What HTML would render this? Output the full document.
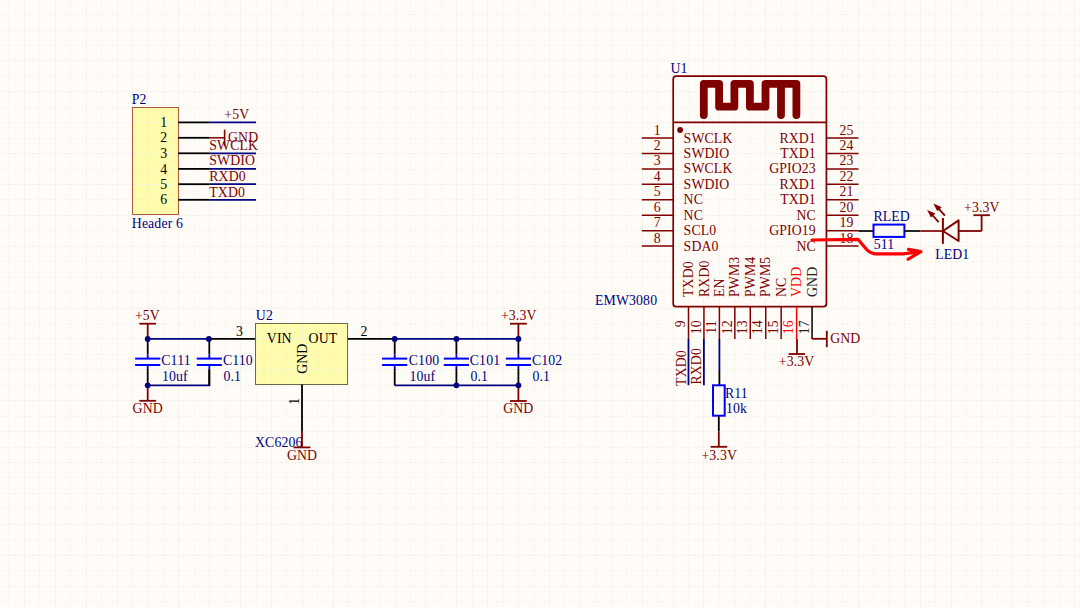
<!DOCTYPE html>
<html><head><meta charset="utf-8"><title>schematic</title>
<style>
html,body{margin:0;padding:0;width:1080px;height:608px;overflow:hidden;background:#FFFCF8;}
svg{display:block;}
text{font-family:"Liberation Serif",serif;font-size:13.8px;letter-spacing:0.12px;}
.gs{stroke:rgba(236,236,230,0.55);stroke-width:1;}
.gd{stroke:rgba(222,222,215,0.4);stroke-width:1;stroke-dasharray:1.4 2.0;}
</style></head><body>
<svg width="1080" height="608" viewBox="0 0 1080 608">
<rect width="1080" height="608" fill="#FFFCF8"/>
<rect x="132.5" y="107.5" width="46" height="107" fill="#FFFCAE"/>
<rect x="255.5" y="323.5" width="92" height="61" fill="#FFFCAE"/>
<g id="grid"><line x1="8.5" y1="0" x2="8.5" y2="608" class="gd"/><line x1="24.5" y1="0" x2="24.5" y2="608" class="gs"/><line x1="39.5" y1="0" x2="39.5" y2="608" class="gd"/><line x1="55.5" y1="0" x2="55.5" y2="608" class="gs"/><line x1="70.5" y1="0" x2="70.5" y2="608" class="gd"/><line x1="86.5" y1="0" x2="86.5" y2="608" class="gs"/><line x1="101.5" y1="0" x2="101.5" y2="608" class="gd"/><line x1="117.5" y1="0" x2="117.5" y2="608" class="gs"/><line x1="132.5" y1="0" x2="132.5" y2="608" class="gd"/><line x1="147.5" y1="0" x2="147.5" y2="608" class="gs"/><line x1="163.5" y1="0" x2="163.5" y2="608" class="gd"/><line x1="178.5" y1="0" x2="178.5" y2="608" class="gs"/><line x1="194.5" y1="0" x2="194.5" y2="608" class="gd"/><line x1="209.5" y1="0" x2="209.5" y2="608" class="gs"/><line x1="225.5" y1="0" x2="225.5" y2="608" class="gd"/><line x1="240.5" y1="0" x2="240.5" y2="608" class="gs"/><line x1="256.5" y1="0" x2="256.5" y2="608" class="gd"/><line x1="271.5" y1="0" x2="271.5" y2="608" class="gs"/><line x1="286.5" y1="0" x2="286.5" y2="608" class="gd"/><line x1="302.5" y1="0" x2="302.5" y2="608" class="gs"/><line x1="317.5" y1="0" x2="317.5" y2="608" class="gd"/><line x1="333.5" y1="0" x2="333.5" y2="608" class="gs"/><line x1="348.5" y1="0" x2="348.5" y2="608" class="gd"/><line x1="364.5" y1="0" x2="364.5" y2="608" class="gs"/><line x1="379.5" y1="0" x2="379.5" y2="608" class="gd"/><line x1="395.5" y1="0" x2="395.5" y2="608" class="gs"/><line x1="410.5" y1="0" x2="410.5" y2="608" class="gd"/><line x1="425.5" y1="0" x2="425.5" y2="608" class="gs"/><line x1="441.5" y1="0" x2="441.5" y2="608" class="gd"/><line x1="456.5" y1="0" x2="456.5" y2="608" class="gs"/><line x1="472.5" y1="0" x2="472.5" y2="608" class="gd"/><line x1="487.5" y1="0" x2="487.5" y2="608" class="gs"/><line x1="503.5" y1="0" x2="503.5" y2="608" class="gd"/><line x1="518.5" y1="0" x2="518.5" y2="608" class="gs"/><line x1="534.5" y1="0" x2="534.5" y2="608" class="gd"/><line x1="549.5" y1="0" x2="549.5" y2="608" class="gs"/><line x1="564.5" y1="0" x2="564.5" y2="608" class="gd"/><line x1="580.5" y1="0" x2="580.5" y2="608" class="gs"/><line x1="595.5" y1="0" x2="595.5" y2="608" class="gd"/><line x1="611.5" y1="0" x2="611.5" y2="608" class="gs"/><line x1="626.5" y1="0" x2="626.5" y2="608" class="gd"/><line x1="642.5" y1="0" x2="642.5" y2="608" class="gs"/><line x1="657.5" y1="0" x2="657.5" y2="608" class="gd"/><line x1="673.5" y1="0" x2="673.5" y2="608" class="gs"/><line x1="688.5" y1="0" x2="688.5" y2="608" class="gd"/><line x1="703.5" y1="0" x2="703.5" y2="608" class="gs"/><line x1="719.5" y1="0" x2="719.5" y2="608" class="gd"/><line x1="734.5" y1="0" x2="734.5" y2="608" class="gs"/><line x1="750.5" y1="0" x2="750.5" y2="608" class="gd"/><line x1="765.5" y1="0" x2="765.5" y2="608" class="gs"/><line x1="781.5" y1="0" x2="781.5" y2="608" class="gd"/><line x1="796.5" y1="0" x2="796.5" y2="608" class="gs"/><line x1="812.5" y1="0" x2="812.5" y2="608" class="gd"/><line x1="827.5" y1="0" x2="827.5" y2="608" class="gs"/><line x1="842.5" y1="0" x2="842.5" y2="608" class="gd"/><line x1="858.5" y1="0" x2="858.5" y2="608" class="gs"/><line x1="873.5" y1="0" x2="873.5" y2="608" class="gd"/><line x1="889.5" y1="0" x2="889.5" y2="608" class="gs"/><line x1="904.5" y1="0" x2="904.5" y2="608" class="gd"/><line x1="920.5" y1="0" x2="920.5" y2="608" class="gs"/><line x1="935.5" y1="0" x2="935.5" y2="608" class="gd"/><line x1="951.5" y1="0" x2="951.5" y2="608" class="gs"/><line x1="966.5" y1="0" x2="966.5" y2="608" class="gd"/><line x1="981.5" y1="0" x2="981.5" y2="608" class="gs"/><line x1="997.5" y1="0" x2="997.5" y2="608" class="gd"/><line x1="1012.5" y1="0" x2="1012.5" y2="608" class="gs"/><line x1="1028.5" y1="0" x2="1028.5" y2="608" class="gd"/><line x1="1043.5" y1="0" x2="1043.5" y2="608" class="gs"/><line x1="1059.5" y1="0" x2="1059.5" y2="608" class="gd"/><line x1="1074.5" y1="0" x2="1074.5" y2="608" class="gs"/><line x1="0" y1="-0.5" x2="1080" y2="-0.5" class="gs"/><line x1="0" y1="14.5" x2="1080" y2="14.5" class="gd"/><line x1="0" y1="30.5" x2="1080" y2="30.5" class="gs"/><line x1="0" y1="45.5" x2="1080" y2="45.5" class="gd"/><line x1="0" y1="60.5" x2="1080" y2="60.5" class="gs"/><line x1="0" y1="76.5" x2="1080" y2="76.5" class="gd"/><line x1="0" y1="91.5" x2="1080" y2="91.5" class="gs"/><line x1="0" y1="107.5" x2="1080" y2="107.5" class="gd"/><line x1="0" y1="122.5" x2="1080" y2="122.5" class="gs"/><line x1="0" y1="138.5" x2="1080" y2="138.5" class="gd"/><line x1="0" y1="153.5" x2="1080" y2="153.5" class="gs"/><line x1="0" y1="169.5" x2="1080" y2="169.5" class="gd"/><line x1="0" y1="184.5" x2="1080" y2="184.5" class="gs"/><line x1="0" y1="199.5" x2="1080" y2="199.5" class="gd"/><line x1="0" y1="215.5" x2="1080" y2="215.5" class="gs"/><line x1="0" y1="230.5" x2="1080" y2="230.5" class="gd"/><line x1="0" y1="246.5" x2="1080" y2="246.5" class="gs"/><line x1="0" y1="261.5" x2="1080" y2="261.5" class="gd"/><line x1="0" y1="277.5" x2="1080" y2="277.5" class="gs"/><line x1="0" y1="292.5" x2="1080" y2="292.5" class="gd"/><line x1="0" y1="308.5" x2="1080" y2="308.5" class="gs"/><line x1="0" y1="323.5" x2="1080" y2="323.5" class="gd"/><line x1="0" y1="338.5" x2="1080" y2="338.5" class="gs"/><line x1="0" y1="354.5" x2="1080" y2="354.5" class="gd"/><line x1="0" y1="369.5" x2="1080" y2="369.5" class="gs"/><line x1="0" y1="385.5" x2="1080" y2="385.5" class="gd"/><line x1="0" y1="400.5" x2="1080" y2="400.5" class="gs"/><line x1="0" y1="416.5" x2="1080" y2="416.5" class="gd"/><line x1="0" y1="431.5" x2="1080" y2="431.5" class="gs"/><line x1="0" y1="447.5" x2="1080" y2="447.5" class="gd"/><line x1="0" y1="462.5" x2="1080" y2="462.5" class="gs"/><line x1="0" y1="477.5" x2="1080" y2="477.5" class="gd"/><line x1="0" y1="493.5" x2="1080" y2="493.5" class="gs"/><line x1="0" y1="508.5" x2="1080" y2="508.5" class="gd"/><line x1="0" y1="524.5" x2="1080" y2="524.5" class="gs"/><line x1="0" y1="539.5" x2="1080" y2="539.5" class="gd"/><line x1="0" y1="555.5" x2="1080" y2="555.5" class="gs"/><line x1="0" y1="570.5" x2="1080" y2="570.5" class="gd"/><line x1="0" y1="586.5" x2="1080" y2="586.5" class="gs"/><line x1="0" y1="601.5" x2="1080" y2="601.5" class="gd"/></g>
<rect x="132.5" y="107.5" width="46" height="107" fill="none" stroke="#B35A3E" stroke-width="1"/>
<line x1="178.1" y1="122.4" x2="209.1" y2="122.4" stroke="#000000" stroke-width="1.8" />
<text x="167.2" y="127.0" fill="#000000" text-anchor="end" >1</text>
<line x1="209.1" y1="122.4" x2="256.0" y2="122.4" stroke="#000080" stroke-width="1.8" />
<line x1="178.1" y1="137.8" x2="209.1" y2="137.8" stroke="#000000" stroke-width="1.8" />
<text x="167.2" y="142.4" fill="#000000" text-anchor="end" >2</text>
<line x1="178.1" y1="153.3" x2="209.1" y2="153.3" stroke="#000000" stroke-width="1.8" />
<text x="167.2" y="157.9" fill="#000000" text-anchor="end" >3</text>
<line x1="209.1" y1="153.3" x2="256.0" y2="153.3" stroke="#000080" stroke-width="1.8" />
<line x1="178.1" y1="168.9" x2="209.1" y2="168.9" stroke="#000000" stroke-width="1.8" />
<text x="167.2" y="173.5" fill="#000000" text-anchor="end" >4</text>
<line x1="209.1" y1="168.9" x2="256.0" y2="168.9" stroke="#000080" stroke-width="1.8" />
<line x1="178.1" y1="184.2" x2="209.1" y2="184.2" stroke="#000000" stroke-width="1.8" />
<text x="167.2" y="188.79999999999998" fill="#000000" text-anchor="end" >5</text>
<line x1="209.1" y1="184.2" x2="256.0" y2="184.2" stroke="#000080" stroke-width="1.8" />
<line x1="178.1" y1="199.8" x2="209.1" y2="199.8" stroke="#000000" stroke-width="1.8" />
<text x="167.2" y="204.4" fill="#000000" text-anchor="end" >6</text>
<line x1="209.1" y1="199.8" x2="256.0" y2="199.8" stroke="#000080" stroke-width="1.8" />
<line x1="209.1" y1="137.8" x2="224.6" y2="137.8" stroke="#800000" stroke-width="1.5" />
<line x1="224.6" y1="129.6" x2="224.6" y2="146.0" stroke="#800000" stroke-width="1.6" />
<text x="228.0" y="142.0" fill="#800000" >GND</text>
<text x="224.3" y="119.0" fill="#800000" >+5V</text>
<text x="209.3" y="149.6" fill="#800000" >SWCLK</text>
<text x="209.3" y="165.2" fill="#800000" >SWDIO</text>
<text x="209.3" y="180.9" fill="#800000" >RXD0</text>
<text x="209.3" y="196.5" fill="#800000" >TXD0</text>
<text x="131.8" y="103.6" fill="#000080" >P2</text>
<text x="131.8" y="228.0" fill="#000080" >Header 6</text>
<line x1="147.7" y1="323.7" x2="147.7" y2="338.9" stroke="#800000" stroke-width="1.8" />
<line x1="139.29999999999998" y1="323.7" x2="156.1" y2="323.7" stroke="#800000" stroke-width="1.8" />
<text x="134.9" y="320.09999999999997" fill="#800000" >+5V</text>
<line x1="147.7" y1="338.9" x2="208.9" y2="338.9" stroke="#000080" stroke-width="1.8" />
<line x1="208.9" y1="338.9" x2="255.4" y2="338.9" stroke="#000000" stroke-width="1.8" />
<line x1="147.7" y1="338.9" x2="147.7" y2="354.3" stroke="#000000" stroke-width="1.8" />
<line x1="147.7" y1="354.3" x2="147.7" y2="358.6" stroke="#0000FF" stroke-width="1.8" />
<line x1="135.1" y1="358.6" x2="160.29999999999998" y2="358.6" stroke="#0000FF" stroke-width="2.0" />
<line x1="135.1" y1="365.0" x2="160.29999999999998" y2="365.0" stroke="#0000FF" stroke-width="2.0" />
<line x1="147.7" y1="365.0" x2="147.7" y2="369.0" stroke="#0000FF" stroke-width="1.8" />
<line x1="147.7" y1="369.0" x2="147.7" y2="385.3" stroke="#000000" stroke-width="1.8" />
<text x="161.3" y="365.2" fill="#000080" >C111</text>
<text x="161.9" y="380.9" fill="#000080" >10uf</text>
<line x1="209.3" y1="338.9" x2="209.3" y2="354.3" stroke="#000000" stroke-width="1.8" />
<line x1="209.3" y1="354.3" x2="209.3" y2="358.6" stroke="#0000FF" stroke-width="1.8" />
<line x1="196.70000000000002" y1="358.6" x2="221.9" y2="358.6" stroke="#0000FF" stroke-width="2.0" />
<line x1="196.70000000000002" y1="365.0" x2="221.9" y2="365.0" stroke="#0000FF" stroke-width="2.0" />
<line x1="209.3" y1="365.0" x2="209.3" y2="369.0" stroke="#0000FF" stroke-width="1.8" />
<line x1="209.3" y1="369.0" x2="209.3" y2="385.3" stroke="#000000" stroke-width="1.8" />
<text x="222.9" y="365.2" fill="#000080" >C110</text>
<text x="223.5" y="380.9" fill="#000080" >0.1</text>
<line x1="147.7" y1="385.3" x2="210.2" y2="385.3" stroke="#000080" stroke-width="1.8" />
<line x1="209.3" y1="385.3" x2="209.3" y2="370" stroke="#000000" stroke-width="1.8" />
<line x1="147.7" y1="385.3" x2="147.7" y2="400.8" stroke="#800000" stroke-width="1.8" />
<line x1="139.29999999999998" y1="400.8" x2="156.1" y2="400.8" stroke="#800000" stroke-width="1.8" />
<text x="132.6" y="413.2" fill="#800000" >GND</text>
<circle cx="147.7" cy="338.9" r="2.9" fill="#000080"/>
<circle cx="208.9" cy="338.9" r="2.9" fill="#000080"/>
<circle cx="147.7" cy="385.3" r="2.9" fill="#000080"/>
<rect x="255.5" y="323.5" width="92" height="61" fill="none" stroke="#6E6A45" stroke-width="1"/>
<text x="266.8" y="343.3" fill="#000000" >VIN</text>
<text x="308.6" y="343.3" fill="#000000" >OUT</text>
<text x="0" y="0" fill="#000000" transform="translate(306.8 373.8) rotate(-90)" >GND</text>
<text x="255.8" y="320.0" fill="#000080" >U2</text>
<text x="236.0" y="335.9" fill="#000000" >3</text>
<text x="360.4" y="335.9" fill="#000000" >2</text>
<line x1="347.9" y1="338.9" x2="394.7" y2="338.9" stroke="#000000" stroke-width="1.8" />
<line x1="302.0" y1="384.4" x2="302.0" y2="431.1" stroke="#000000" stroke-width="1.8" />
<text x="0" y="0" fill="#000000" text-anchor="middle" transform="translate(299.0 401.2) rotate(-90)" >1</text>
<line x1="302.0" y1="431.1" x2="302.0" y2="447.4" stroke="#800000" stroke-width="1.8" />
<text x="255.0" y="446.6" fill="#000080" >XC6206</text>
<line x1="293.6" y1="447.4" x2="310.4" y2="447.4" stroke="#800000" stroke-width="1.8" />
<text x="286.9" y="459.79999999999995" fill="#800000" >GND</text>
<line x1="394.7" y1="338.9" x2="518.4" y2="338.9" stroke="#000080" stroke-width="1.8" />
<line x1="394.7" y1="385.3" x2="518.4" y2="385.3" stroke="#000080" stroke-width="1.8" />
<line x1="394.7" y1="338.9" x2="394.7" y2="354.3" stroke="#000000" stroke-width="1.8" />
<line x1="394.7" y1="354.3" x2="394.7" y2="358.6" stroke="#0000FF" stroke-width="1.8" />
<line x1="382.09999999999997" y1="358.6" x2="407.3" y2="358.6" stroke="#0000FF" stroke-width="2.0" />
<line x1="382.09999999999997" y1="365.0" x2="407.3" y2="365.0" stroke="#0000FF" stroke-width="2.0" />
<line x1="394.7" y1="365.0" x2="394.7" y2="369.0" stroke="#0000FF" stroke-width="1.8" />
<line x1="394.7" y1="369.0" x2="394.7" y2="385.3" stroke="#000000" stroke-width="1.8" />
<text x="408.8" y="365.2" fill="#000080" >C100</text>
<text x="409.40000000000003" y="380.9" fill="#000080" >10uf</text>
<line x1="456.4" y1="338.9" x2="456.4" y2="354.3" stroke="#000000" stroke-width="1.8" />
<line x1="456.4" y1="354.3" x2="456.4" y2="358.6" stroke="#0000FF" stroke-width="1.8" />
<line x1="443.79999999999995" y1="358.6" x2="469.0" y2="358.6" stroke="#0000FF" stroke-width="2.0" />
<line x1="443.79999999999995" y1="365.0" x2="469.0" y2="365.0" stroke="#0000FF" stroke-width="2.0" />
<line x1="456.4" y1="365.0" x2="456.4" y2="369.0" stroke="#0000FF" stroke-width="1.8" />
<line x1="456.4" y1="369.0" x2="456.4" y2="385.3" stroke="#000000" stroke-width="1.8" />
<text x="469.8" y="365.2" fill="#000080" >C101</text>
<text x="470.40000000000003" y="380.9" fill="#000080" >0.1</text>
<line x1="518.4" y1="338.9" x2="518.4" y2="354.3" stroke="#000000" stroke-width="1.8" />
<line x1="518.4" y1="354.3" x2="518.4" y2="358.6" stroke="#0000FF" stroke-width="1.8" />
<line x1="505.79999999999995" y1="358.6" x2="531.0" y2="358.6" stroke="#0000FF" stroke-width="2.0" />
<line x1="505.79999999999995" y1="365.0" x2="531.0" y2="365.0" stroke="#0000FF" stroke-width="2.0" />
<line x1="518.4" y1="365.0" x2="518.4" y2="369.0" stroke="#0000FF" stroke-width="1.8" />
<line x1="518.4" y1="369.0" x2="518.4" y2="385.3" stroke="#000000" stroke-width="1.8" />
<text x="531.9" y="365.2" fill="#000080" >C102</text>
<text x="532.5" y="380.9" fill="#000080" >0.1</text>
<line x1="518.4" y1="323.7" x2="518.4" y2="338.9" stroke="#800000" stroke-width="1.8" />
<line x1="510.0" y1="323.7" x2="526.8" y2="323.7" stroke="#800000" stroke-width="1.8" />
<text x="500.9" y="320.09999999999997" fill="#800000" >+3.3V</text>
<line x1="518.4" y1="385.3" x2="518.4" y2="401.0" stroke="#800000" stroke-width="1.8" />
<line x1="510.0" y1="401.0" x2="526.8" y2="401.0" stroke="#800000" stroke-width="1.8" />
<text x="503.2" y="413.4" fill="#800000" >GND</text>
<circle cx="394.7" cy="338.9" r="2.9" fill="#000080"/>
<circle cx="456.4" cy="338.9" r="2.9" fill="#000080"/>
<circle cx="518.4" cy="338.9" r="2.9" fill="#000080"/>
<circle cx="456.4" cy="385.3" r="2.9" fill="#000080"/>
<circle cx="518.4" cy="385.3" r="2.9" fill="#000080"/>
<rect x="673.2" y="76.2" width="153.2" height="230.5" rx="3" ry="3" fill="none" stroke="#800000" stroke-width="1.7"/>
<line x1="673.2" y1="122.3" x2="826.4" y2="122.3" stroke="#800000" stroke-width="1.7" />
<path d="M703.8,115 V83.8 H719.1 V106.7 H734.4 V83.8 H749.9 V106.7 H765.5 V83.8 H796.4 V115 M781,83.8 V115" fill="none" stroke="#800000" stroke-width="7.8" stroke-linecap="round" stroke-linejoin="round"/>
<circle cx="680.1" cy="130.0" r="2.9" fill="#800000"/>
<text x="670.5" y="73.0" fill="#000080" >U1</text>
<text x="595.0" y="304.8" fill="#000080" >EMW3080</text>
<line x1="641.8" y1="138.0" x2="673.2" y2="138.0" stroke="#800000" stroke-width="1.5" />
<text x="660.8" y="134.6" fill="#800000" text-anchor="end" >1</text>
<text x="683.6" y="142.6" fill="#800000" >SWCLK</text>
<line x1="826.4" y1="138.0" x2="858.5" y2="138.0" stroke="#800000" stroke-width="1.5" />
<text x="839.4" y="134.6" fill="#800000" >25</text>
<text x="815.9" y="142.6" fill="#800000" text-anchor="end" >RXD1</text>
<line x1="641.8" y1="153.445" x2="673.2" y2="153.445" stroke="#800000" stroke-width="1.5" />
<text x="660.8" y="150.045" fill="#800000" text-anchor="end" >2</text>
<text x="683.6" y="158.045" fill="#800000" >SWDIO</text>
<line x1="826.4" y1="153.445" x2="858.5" y2="153.445" stroke="#800000" stroke-width="1.5" />
<text x="839.4" y="150.045" fill="#800000" >24</text>
<text x="815.9" y="158.045" fill="#800000" text-anchor="end" >TXD1</text>
<line x1="641.8" y1="168.89" x2="673.2" y2="168.89" stroke="#800000" stroke-width="1.5" />
<text x="660.8" y="165.48999999999998" fill="#800000" text-anchor="end" >3</text>
<text x="683.6" y="173.48999999999998" fill="#800000" >SWCLK</text>
<line x1="826.4" y1="168.89" x2="858.5" y2="168.89" stroke="#800000" stroke-width="1.5" />
<text x="839.4" y="165.48999999999998" fill="#800000" >23</text>
<text x="815.9" y="173.48999999999998" fill="#800000" text-anchor="end" >GPIO23</text>
<line x1="641.8" y1="184.335" x2="673.2" y2="184.335" stroke="#800000" stroke-width="1.5" />
<text x="660.8" y="180.935" fill="#800000" text-anchor="end" >4</text>
<text x="683.6" y="188.935" fill="#800000" >SWDIO</text>
<line x1="826.4" y1="184.335" x2="858.5" y2="184.335" stroke="#800000" stroke-width="1.5" />
<text x="839.4" y="180.935" fill="#800000" >22</text>
<text x="815.9" y="188.935" fill="#800000" text-anchor="end" >RXD1</text>
<line x1="641.8" y1="199.78" x2="673.2" y2="199.78" stroke="#800000" stroke-width="1.5" />
<text x="660.8" y="196.38" fill="#800000" text-anchor="end" >5</text>
<text x="683.6" y="204.38" fill="#800000" >NC</text>
<line x1="826.4" y1="199.78" x2="858.5" y2="199.78" stroke="#800000" stroke-width="1.5" />
<text x="839.4" y="196.38" fill="#800000" >21</text>
<text x="815.9" y="204.38" fill="#800000" text-anchor="end" >TXD1</text>
<line x1="641.8" y1="215.225" x2="673.2" y2="215.225" stroke="#800000" stroke-width="1.5" />
<text x="660.8" y="211.825" fill="#800000" text-anchor="end" >6</text>
<text x="683.6" y="219.825" fill="#800000" >NC</text>
<line x1="826.4" y1="215.225" x2="858.5" y2="215.225" stroke="#800000" stroke-width="1.5" />
<text x="839.4" y="211.825" fill="#800000" >20</text>
<text x="815.9" y="219.825" fill="#800000" text-anchor="end" >NC</text>
<line x1="641.8" y1="230.67000000000002" x2="673.2" y2="230.67000000000002" stroke="#800000" stroke-width="1.5" />
<text x="660.8" y="227.27" fill="#800000" text-anchor="end" >7</text>
<text x="683.6" y="235.27" fill="#800000" >SCL0</text>
<line x1="826.4" y1="230.67000000000002" x2="858.5" y2="230.67000000000002" stroke="#800000" stroke-width="1.5" />
<text x="839.4" y="227.27" fill="#800000" >19</text>
<text x="815.9" y="235.27" fill="#800000" text-anchor="end" >GPIO19</text>
<line x1="641.8" y1="246.115" x2="673.2" y2="246.115" stroke="#800000" stroke-width="1.5" />
<text x="660.8" y="242.715" fill="#800000" text-anchor="end" >8</text>
<text x="683.6" y="250.715" fill="#800000" >SDA0</text>
<line x1="826.4" y1="246.115" x2="858.5" y2="246.115" stroke="#800000" stroke-width="1.5" />
<text x="839.4" y="242.715" fill="#800000" >18</text>
<text x="815.9" y="250.715" fill="#800000" text-anchor="end" >NC</text>
<line x1="688.5" y1="306.7" x2="688.5" y2="339.0" stroke="#800000" stroke-width="1.5" />
<text x="0" y="0" fill="#800000" transform="translate(693.1 297.0) rotate(-90)" >TXD0</text>
<text x="0" y="0" fill="#800000" text-anchor="end" transform="translate(685.2 320.3) rotate(-90)" >9</text>
<line x1="703.945" y1="306.7" x2="703.945" y2="339.0" stroke="#800000" stroke-width="1.5" />
<text x="0" y="0" fill="#800000" transform="translate(708.5450000000001 297.0) rotate(-90)" >RXD0</text>
<text x="0" y="0" fill="#800000" text-anchor="end" transform="translate(700.6450000000001 320.3) rotate(-90)" >10</text>
<line x1="719.39" y1="306.7" x2="719.39" y2="339.0" stroke="#800000" stroke-width="1.5" />
<text x="0" y="0" fill="#800000" transform="translate(723.99 297.0) rotate(-90)" >EN</text>
<text x="0" y="0" fill="#800000" text-anchor="end" transform="translate(716.09 320.3) rotate(-90)" >11</text>
<line x1="734.835" y1="306.7" x2="734.835" y2="339.0" stroke="#800000" stroke-width="1.5" />
<text x="0" y="0" fill="#800000" transform="translate(739.4350000000001 297.0) rotate(-90)" >PWM3</text>
<text x="0" y="0" fill="#800000" text-anchor="end" transform="translate(731.5350000000001 320.3) rotate(-90)" >12</text>
<line x1="750.28" y1="306.7" x2="750.28" y2="339.0" stroke="#800000" stroke-width="1.5" />
<text x="0" y="0" fill="#800000" transform="translate(754.88 297.0) rotate(-90)" >PWM4</text>
<text x="0" y="0" fill="#800000" text-anchor="end" transform="translate(746.98 320.3) rotate(-90)" >13</text>
<line x1="765.725" y1="306.7" x2="765.725" y2="339.0" stroke="#800000" stroke-width="1.5" />
<text x="0" y="0" fill="#800000" transform="translate(770.325 297.0) rotate(-90)" >PWM5</text>
<text x="0" y="0" fill="#800000" text-anchor="end" transform="translate(762.4250000000001 320.3) rotate(-90)" >14</text>
<line x1="781.17" y1="306.7" x2="781.17" y2="339.0" stroke="#800000" stroke-width="1.5" />
<text x="0" y="0" fill="#800000" transform="translate(785.77 297.0) rotate(-90)" >NC</text>
<text x="0" y="0" fill="#800000" text-anchor="end" transform="translate(777.87 320.3) rotate(-90)" >15</text>
<line x1="796.615" y1="306.7" x2="796.615" y2="339.0" stroke="#FF0000" stroke-width="1.5" />
<text x="0" y="0" fill="#FF0000" transform="translate(801.215 297.0) rotate(-90)" >VDD</text>
<text x="0" y="0" fill="#FF0000" text-anchor="end" transform="translate(793.315 320.3) rotate(-90)" >16</text>
<line x1="812.06" y1="306.7" x2="812.06" y2="339.0" stroke="#000000" stroke-width="1.5" />
<text x="0" y="0" fill="#222222" transform="translate(816.66 297.0) rotate(-90)" >GND</text>
<text x="0" y="0" fill="#222222" text-anchor="end" transform="translate(808.76 320.3) rotate(-90)" >17</text>
<line x1="688.5" y1="339.0" x2="688.5" y2="385.2" stroke="#000080" stroke-width="1.8" />
<line x1="703.9" y1="339.0" x2="703.9" y2="385.2" stroke="#000080" stroke-width="1.8" />
<line x1="719.4" y1="339.0" x2="719.4" y2="371.0" stroke="#000080" stroke-width="1.8" />
<line x1="719.4" y1="371.0" x2="719.4" y2="385.3" stroke="#000000" stroke-width="1.8" />
<text x="0" y="0" fill="#800000" transform="translate(685.5 385.9) rotate(-90)" >TXD0</text>
<text x="0" y="0" fill="#800000" transform="translate(701.0 384.6) rotate(-90)" >RXD0</text>
<rect x="713.0" y="385.3" width="11.7" height="30.4" fill="none" stroke="#0000FF" stroke-width="2"/>
<line x1="718.8" y1="415.7" x2="718.8" y2="431.5" stroke="#000000" stroke-width="1.8" />
<line x1="718.8" y1="431.5" x2="718.8" y2="446.8" stroke="#800000" stroke-width="1.8" />
<line x1="710.6" y1="446.8" x2="727.2" y2="446.8" stroke="#800000" stroke-width="1.8" />
<text x="725.0" y="397.5" fill="#000080" >R11</text>
<text x="725.9" y="412.8" fill="#000080" >10k</text>
<text x="701.4" y="459.5" fill="#800000" >+3.3V</text>
<line x1="797.0" y1="339.0" x2="797.0" y2="354.0" stroke="#800000" stroke-width="1.8" />
<line x1="788.6" y1="354.0" x2="805.0" y2="354.0" stroke="#800000" stroke-width="1.8" />
<text x="778.8" y="365.8" fill="#800000" >+3.3V</text>
<line x1="812.1" y1="338.8" x2="826.8" y2="338.8" stroke="#800000" stroke-width="1.8" />
<line x1="826.8" y1="330.8" x2="826.8" y2="347.2" stroke="#800000" stroke-width="1.8" />
<text x="830.2" y="343.4" fill="#800000" >GND</text>
<line x1="858.5" y1="231.0" x2="873.5" y2="231.0" stroke="#000000" stroke-width="1.7" />
<rect x="873.5" y="224.6" width="30.9" height="12.3" fill="none" stroke="#0000FF" stroke-width="2"/>
<line x1="904.4" y1="231.0" x2="920.2" y2="231.0" stroke="#000000" stroke-width="1.7" />
<line x1="920.2" y1="231.0" x2="942.9" y2="231.0" stroke="#800000" stroke-width="1.7" />
<text x="873.4" y="221.1" fill="#000080" >RLED</text>
<text x="873.8" y="248.6" fill="#000080" >511</text>
<line x1="942.9" y1="218.0" x2="942.9" y2="243.9" stroke="#800000" stroke-width="2.0" />
<path d="M942.9,231 L958.6,220.3 V241.0 Z" fill="none" stroke="#800000" stroke-width="2" stroke-linejoin="round"/>
<line x1="958.8" y1="231.0" x2="981.6" y2="231.0" stroke="#800000" stroke-width="1.8" />
<line x1="981.6" y1="231.0" x2="981.6" y2="215.2" stroke="#800000" stroke-width="1.8" />
<line x1="973.5" y1="215.2" x2="989.9" y2="215.2" stroke="#800000" stroke-width="1.8" />
<text x="964.0" y="211.7" fill="#800000" >+3.3V</text>
<text x="935.2" y="259.0" fill="#000080" >LED1</text>
<line x1="938.6" y1="222.1" x2="931" y2="213.5" stroke="#800000" stroke-width="1.8"/>
<path d="M927.1,210 L935.4,213.6 L931.0,217.6 Z" fill="#800000"/>
<line x1="944.9" y1="215.7" x2="937.3" y2="207.1" stroke="#800000" stroke-width="1.8"/>
<path d="M933.4,203.6 L941.7,207.2 L937.3,211.2 Z" fill="#800000"/>
<path d="M812,240 L858,239.3 L865.5,248.2 Q869.5,253 875.5,253.9 L903,253.9 L920.7,251.6 M908.5,249.4 L920.9,251.6 L908.2,259.2" fill="none" stroke="#FF0000" stroke-width="3.2" stroke-linecap="round" stroke-linejoin="round"/>
</svg>
</body></html>
